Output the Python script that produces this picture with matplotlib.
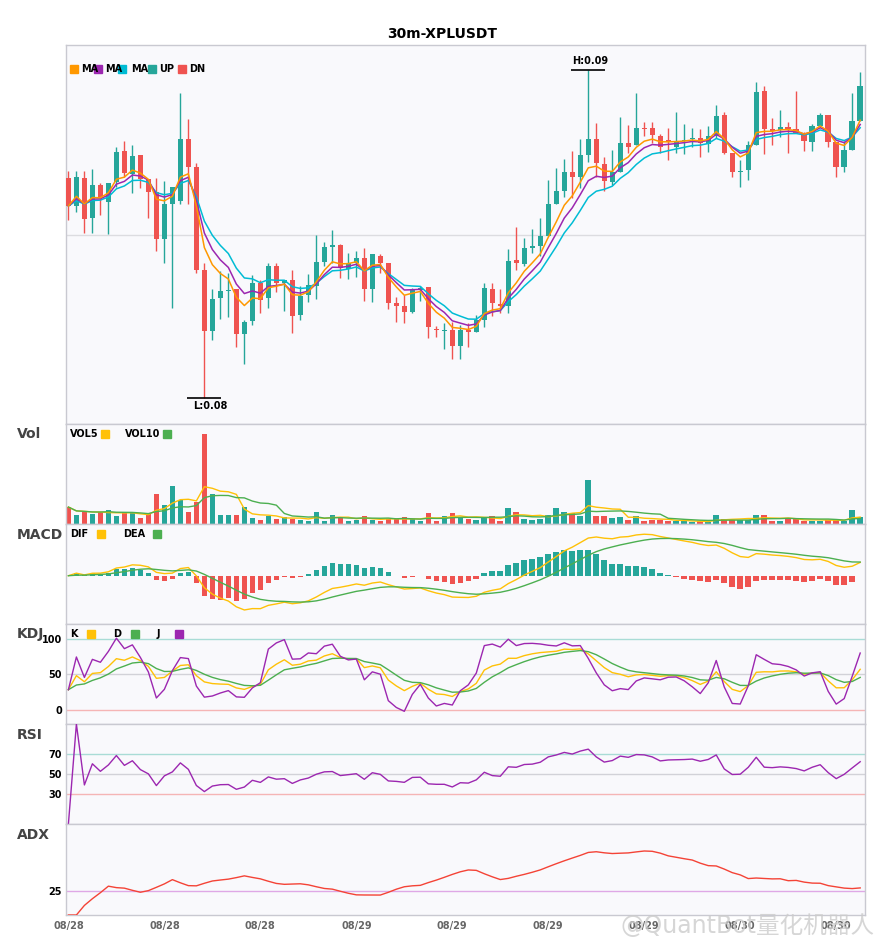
import numpy as np
import pandas as pd
import matplotlib
matplotlib.use("Agg")
import matplotlib.pyplot as plt
from matplotlib.patches import Rectangle
from matplotlib.ticker import MultipleLocator, FixedLocator

title = "30m-XPLUSDT"
date_labels = ["08/28", "08/28", "08/28", "08/29", "08/29", "08/29", "08/29", "08/30", "08/30"]
date_label_idx = [0, 12, 24, 36, 48, 60, 72, 84, 96]

opens = [0.08614, 0.08558, 0.08614, 0.08534, 0.08600, 0.08566, 0.08606, 0.08668, 0.08622, 0.08660,
         0.08612, 0.08586, 0.08492, 0.08562, 0.08568, 0.08692, 0.08636, 0.08430, 0.08308, 0.08374,
         0.08388, 0.08392, 0.08302, 0.08328, 0.08404, 0.08374, 0.08438, 0.08404, 0.08410, 0.08340,
         0.08380, 0.08398, 0.08446, 0.08476, 0.08480, 0.08432, 0.08444, 0.08454, 0.08392, 0.08458,
         0.08444, 0.08364, 0.08358, 0.08346, 0.08390, 0.08396, 0.08312, 0.08308, 0.08310, 0.08278,
         0.08310, 0.08306, 0.08330, 0.08392, 0.08362, 0.08358, 0.08450, 0.08442, 0.08474, 0.08478,
         0.08498, 0.08562, 0.08588, 0.08626, 0.08616, 0.08660, 0.08692, 0.08642, 0.08606, 0.08626,
         0.08684, 0.08680, 0.08714, 0.08714, 0.08698, 0.08690, 0.08676, 0.08688, 0.08692, 0.08694,
         0.08682, 0.08698, 0.08740, 0.08664, 0.08626, 0.08630, 0.08680, 0.08788, 0.08712, 0.08710,
         0.08716, 0.08712, 0.08704, 0.08686, 0.08718, 0.08740, 0.08686, 0.08636, 0.08670, 0.08728]
highs = [0.08628, 0.08628, 0.08628, 0.08632, 0.08604, 0.08604, 0.08676, 0.08688, 0.08680, 0.08660,
         0.08612, 0.08614, 0.08608, 0.08596, 0.08784, 0.08732, 0.08644, 0.08444, 0.08392, 0.08428,
         0.08424, 0.08392, 0.08330, 0.08420, 0.08410, 0.08444, 0.08444, 0.08410, 0.08430, 0.08398,
         0.08422, 0.08500, 0.08486, 0.08510, 0.08482, 0.08464, 0.08468, 0.08474, 0.08462, 0.08462,
         0.08444, 0.08376, 0.08380, 0.08394, 0.08398, 0.08396, 0.08318, 0.08324, 0.08326, 0.08320,
         0.08324, 0.08340, 0.08404, 0.08404, 0.08392, 0.08472, 0.08516, 0.08494, 0.08512, 0.08534,
         0.08610, 0.08634, 0.08652, 0.08668, 0.08692, 0.08830, 0.08724, 0.08656, 0.08670, 0.08736,
         0.08720, 0.08784, 0.08726, 0.08726, 0.08702, 0.08714, 0.08746, 0.08722, 0.08714, 0.08712,
         0.08718, 0.08760, 0.08746, 0.08664, 0.08650, 0.08688, 0.08806, 0.08798, 0.08734, 0.08750,
         0.08726, 0.08788, 0.08706, 0.08722, 0.08744, 0.08740, 0.08686, 0.08688, 0.08784, 0.08826]
lows = [0.08530, 0.08546, 0.08504, 0.08504, 0.08540, 0.08502, 0.08596, 0.08616, 0.08584, 0.08594,
        0.08534, 0.08468, 0.08444, 0.08354, 0.08562, 0.08562, 0.08424, 0.08174, 0.08290, 0.08332,
        0.08336, 0.08276, 0.08242, 0.08320, 0.08344, 0.08354, 0.08386, 0.08348, 0.08304, 0.08330,
        0.08366, 0.08372, 0.08438, 0.08444, 0.08414, 0.08412, 0.08416, 0.08368, 0.08366, 0.08424,
        0.08352, 0.08326, 0.08324, 0.08344, 0.08368, 0.08294, 0.08296, 0.08272, 0.08252, 0.08252,
        0.08276, 0.08306, 0.08316, 0.08338, 0.08344, 0.08344, 0.08430, 0.08438, 0.08464, 0.08458,
        0.08498, 0.08562, 0.08576, 0.08574, 0.08594, 0.08646, 0.08616, 0.08588, 0.08600, 0.08626,
        0.08664, 0.08680, 0.08698, 0.08684, 0.08664, 0.08650, 0.08664, 0.08662, 0.08676, 0.08656,
        0.08666, 0.08694, 0.08662, 0.08616, 0.08596, 0.08610, 0.08680, 0.08662, 0.08680, 0.08696,
        0.08664, 0.08704, 0.08668, 0.08668, 0.08716, 0.08676, 0.08616, 0.08626, 0.08670, 0.08728]
closes = [0.08558, 0.08616, 0.08532, 0.08600, 0.08574, 0.08604, 0.08666, 0.08624, 0.08658, 0.08612,
          0.08586, 0.08492, 0.08562, 0.08596, 0.08692, 0.08636, 0.08430, 0.08308, 0.08372, 0.08388,
          0.08390, 0.08302, 0.08326, 0.08404, 0.08370, 0.08438, 0.08404, 0.08410, 0.08338, 0.08378,
          0.08400, 0.08446, 0.08476, 0.08480, 0.08434, 0.08444, 0.08454, 0.08392, 0.08462, 0.08444,
          0.08364, 0.08358, 0.08346, 0.08392, 0.08394, 0.08316, 0.08310, 0.08310, 0.08278, 0.08310,
          0.08306, 0.08330, 0.08394, 0.08364, 0.08358, 0.08448, 0.08444, 0.08474, 0.08478, 0.08498,
          0.08562, 0.08588, 0.08626, 0.08616, 0.08660, 0.08692, 0.08644, 0.08608, 0.08626, 0.08684,
          0.08676, 0.08714, 0.08712, 0.08700, 0.08676, 0.08686, 0.08688, 0.08690, 0.08694, 0.08684,
          0.08698, 0.08738, 0.08664, 0.08626, 0.08628, 0.08680, 0.08786, 0.08712, 0.08708, 0.08716,
          0.08712, 0.08704, 0.08688, 0.08718, 0.08740, 0.08686, 0.08636, 0.08670, 0.08728, 0.08798]
volumes = [17.0, 9.3, 11.7, 10.3, 11.7, 14.3, 8.3, 11.0, 11.0, 6.3,
           10.3, 30.3, 19.3, 38.3, 23.7, 12.3, 22.3, 90.3, 30.3, 9.3,
           9.3, 9.3, 16.7, 6.3, 4.3, 7.7, 5.3, 7.0, 5.3, 4.3,
           3.3, 12.3, 3.3, 9.3, 6.0, 3.3, 4.3, 8.3, 4.3, 3.3,
           5.0, 5.0, 7.3, 5.0, 3.3, 11.3, 3.3, 8.3, 11.3, 6.7,
           5.3, 4.3, 6.0, 8.3, 3.3, 16.3, 12.3, 5.3, 4.3, 5.3,
           9.3, 16.3, 12.3, 11.0, 8.3, 44.3, 8.3, 8.3, 6.0, 7.0,
           4.3, 8.3, 3.3, 4.3, 4.3, 3.3, 3.3, 2.7, 1.7, 2.7,
           2.0, 9.3, 5.3, 4.3, 4.3, 4.3, 9.3, 9.3, 2.7, 3.3,
           5.3, 6.0, 3.3, 2.7, 3.3, 4.3, 5.3, 3.3, 14.3, 7.3]

# ---------------- indicators derived from the data ----------------
o = pd.Series(opens); h = pd.Series(highs); l = pd.Series(lows); c = pd.Series(closes)
v = pd.Series(volumes)
n = len(c)
x = np.arange(n)

ma_fast = c.ewm(span=5, adjust=False).mean()
ma_mid = c.ewm(span=7, adjust=False).mean()
ma_slow = c.ewm(span=10, adjust=False).mean()

vol5 = v.rolling(5, min_periods=1).mean()
vol10 = v.rolling(10, min_periods=1).mean()

dif = c.ewm(span=12, adjust=False).mean() - c.ewm(span=26, adjust=False).mean()
dea = dif.ewm(span=9, adjust=False).mean()
macd_hist = 1.5 * (dif - dea)

low9 = l.rolling(9, min_periods=1).min()
high9 = h.rolling(9, min_periods=1).max()
rsv = (c - low9) / (high9 - low9) * 100
k_line = rsv.ewm(com=2, adjust=False).mean()
d_line = k_line.ewm(com=2, adjust=False).mean()
j_line = 3 * k_line - 2 * d_line

delta = c.diff()
gain = delta.clip(lower=0).ewm(com=13, adjust=True).mean()
loss = (-delta.clip(upper=0)).ewm(com=13, adjust=True).mean()
rsi = (100 * gain / (gain + loss)).fillna(0)

up_move = h.diff()
down_move = -l.diff()
plus_dm = pd.Series(np.where((up_move > down_move) & (up_move > 0), up_move, 0.0))
minus_dm = pd.Series(np.where((down_move > up_move) & (down_move > 0), down_move, 0.0))
tr = pd.concat([h - l, (h - c.shift()).abs(), (l - c.shift()).abs()], axis=1).max(axis=1)
atr = tr.ewm(alpha=1 / 7, adjust=False).mean()
pdi = 100 * plus_dm.ewm(alpha=1 / 7, adjust=False).mean() / atr
mdi = 100 * minus_dm.ewm(alpha=1 / 7, adjust=False).mean() / atr
dx = (100 * (pdi - mdi).abs() / (pdi + mdi)).fillna(0)
adx = dx.ewm(alpha=1 / 10, adjust=False).mean()

# ---------------- styling ----------------
UP = "#26a69a"
DN = "#ef5350"
C_MA1 = "#ff9800"
C_MA2 = "#9c27b0"
C_MA3 = "#00bcd4"
C_Y = "#ffc107"
C_G = "#4caf50"
C_P = "#9c27b0"
BG = "#f9f9fc"
SPINE = "#c9c9d1"

W, H = 885, 950
fig = plt.figure(figsize=(W / 100, H / 100), dpi=100)
fig.patch.set_facecolor("white")

left = 66 / W
width = 799 / W


def make_ax(top_px, bottom_px):
    ax = fig.add_axes([left, 1 - bottom_px / H, width, (bottom_px - top_px) / H])
    ax.set_facecolor(BG)
    for s in ax.spines.values():
        s.set_color(SPINE)
        s.set_linewidth(1.0)
    ax.set_xlim(-0.3, n - 0.4)
    ax.tick_params(axis="x", length=0, labelbottom=False)
    ax.tick_params(axis="y", length=0, labelleft=False)
    return ax


ax_main = make_ax(45, 424)
ax_vol = make_ax(424, 524)
ax_macd = make_ax(524, 624)
ax_kdj = make_ax(624, 724)
ax_rsi = make_ax(724, 824)
ax_adx = make_ax(824, 915)

is_up = (c >= o).values
colors = np.where(is_up, UP, DN)

# ---- main candles ----
ax_main.set_ylim(0.08122, 0.0888)
ax_main.yaxis.set_major_locator(MultipleLocator(0.005))
ax_main.grid(axis="y", color="#dcdce0", linewidth=1.0)
ax_main.set_axisbelow(True)
ax_main.vlines(x, l, h, colors=colors, linewidth=1.0, zorder=2)
body_bottom = np.minimum(o, c)
body_h = np.maximum(np.abs(c - o), 0.000016)
ax_main.bar(x, body_h, bottom=body_bottom, width=0.68, color=colors, zorder=3, linewidth=0)
ax_main.plot(x, ma_slow, color=C_MA3, linewidth=1.1, zorder=4)
ax_main.plot(x, ma_mid, color=C_MA2, linewidth=1.1, zorder=4)
ax_main.plot(x, ma_fast, color=C_MA1, linewidth=1.1, zorder=4)

ih = int(np.argmax(highs))
il = int(np.argmin(lows))
ax_main.hlines(highs[ih], ih - 2.2, ih + 2.1, color="black", linewidth=1.2, zorder=5)
ax_main.annotate(f"H:{highs[ih]:.2f}", (ih + 0.2, highs[ih]), xytext=(0, 3), textcoords="offset points",
                 ha="center", va="bottom", fontsize=7, fontweight="bold", zorder=6)
ax_main.hlines(lows[il], il - 2.2, il + 2.1, color="black", linewidth=1.2, zorder=5)
ax_main.annotate(f"L:{lows[il]:.2f}", (il + 0.7, lows[il]), xytext=(0, -2), textcoords="offset points",
                 ha="center", va="top", fontsize=7, fontweight="bold", zorder=6)

# ---- volume ----
ax_vol.bar(x, v, width=0.7, color=colors, linewidth=0, zorder=2)
ax_vol.plot(x, vol5, color=C_Y, linewidth=1.0, zorder=3)
ax_vol.plot(x, vol10, color=C_G, linewidth=1.0, zorder=3)
ax_vol.set_ylim(0, v.max() * 1.11)

# ---- MACD ----
hist_colors = np.where(macd_hist >= 0, UP, DN)
ax_macd.bar(x, macd_hist, width=0.7, color=hist_colors, linewidth=0, zorder=2)
ax_macd.plot(x, dif, color=C_Y, linewidth=1.0, zorder=3)
ax_macd.plot(x, dea, color=C_G, linewidth=1.0, zorder=3)
A = abs(dif.min())
ax_macd.set_ylim(-1.41 * A, 1.51 * A)

# ---- KDJ ----
ax_kdj.set_ylim(-19.7, 121)
ax_kdj.axhline(100, color="#a9dcd6", linewidth=1.0, zorder=1)
ax_kdj.axhline(50, color="#d2d2d8", linewidth=1.0, zorder=1)
ax_kdj.axhline(0, color="#f5b5b5", linewidth=1.0, zorder=1)
ax_kdj.plot(x, k_line, color=C_Y, linewidth=1.0, zorder=3)
ax_kdj.plot(x, d_line, color=C_G, linewidth=1.0, zorder=3)
ax_kdj.plot(x, j_line, color=C_P, linewidth=1.0, zorder=3)
ax_kdj.yaxis.set_major_locator(FixedLocator([0, 50, 100]))
ax_kdj.tick_params(axis="y", labelleft=True, labelsize=7, pad=3)

# ---- RSI ----
ax_rsi.set_ylim(0, 100)
ax_rsi.axhline(70, color="#a9dcd6", linewidth=1.0, zorder=1)
ax_rsi.axhline(50, color="#d2d2d8", linewidth=1.0, zorder=1)
ax_rsi.axhline(30, color="#f5b5b5", linewidth=1.0, zorder=1)
ax_rsi.plot(x, rsi, color=C_P, linewidth=1.0, zorder=3)
ax_rsi.yaxis.set_major_locator(FixedLocator([30, 50, 70]))
ax_rsi.tick_params(axis="y", labelleft=True, labelsize=7, pad=3)

# ---- ADX ----
ax_adx.set_ylim(0, 95)
ax_adx.axhline(25, color="#dfa8e6", linewidth=1.0, zorder=1)
ax_adx.plot(x, adx, color="#f44336", linewidth=1.0, zorder=3)
ax_adx.yaxis.set_major_locator(FixedLocator([25]))
ax_adx.tick_params(axis="y", labelleft=True, labelsize=7, pad=3)
ax_adx.set_xticks(date_label_idx)
ax_adx.set_xticklabels(date_labels)
ax_adx.tick_params(axis="x", labelbottom=True, labelsize=7, colors="#666666", length=0, pad=4)

for ax in (ax_kdj, ax_rsi, ax_adx):
    for t in ax.get_yticklabels():
        t.set_fontweight("bold")
for t in ax_adx.get_xticklabels():
    t.set_fontweight("bold")

# ---- titles / panel labels ----
fig.text(0.5, 1 - 34 / H, title, ha="center", va="center", fontsize=10, fontweight="bold")
for lab, ypx in [("Vol", 434), ("MACD", 535), ("KDJ", 634), ("RSI", 735), ("ADX", 835)]:
    fig.text(17 / W, 1 - ypx / H, lab, ha="left", va="center", fontsize=10, fontweight="bold", color="#444444")


def fsq(x0, y0, color, size=8):
    fig.patches.append(Rectangle((x0 / W, 1 - (y0 + size) / H), size / W, size / H,
                                 transform=fig.transFigure, color=color, zorder=5))


def ftxt(x0, ycen, s):
    fig.text(x0 / W, 1 - ycen / H, s, ha="left", va="center", fontsize=7, fontweight="bold", zorder=6)


# main legend
for sx, col, tx, lab in [(70, C_MA1, 81, "MA"), (94, C_MA2, 105, "MA"), (118, C_MA3, 131, "MA"),
                         (148, UP, 159, "UP"), (178, DN, 189, "DN")]:
    fsq(sx, 65, col)
    ftxt(tx, 69, lab)
# vol legend
ftxt(70, 434, "VOL5"); fsq(101, 430, C_Y)
ftxt(125, 434, "VOL10"); fsq(163, 430, C_G)
# macd legend
ftxt(70, 534, "DIF"); fsq(97, 530, C_Y)
ftxt(123, 534, "DEA"); fsq(153, 530, C_G)
# kdj legend
ftxt(70, 634, "K"); fsq(87, 630, C_Y)
ftxt(113, 634, "D"); fsq(131, 630, C_G)
ftxt(157, 634, "J"); fsq(175, 630, C_P)

# watermark
fig.text(620 / W, 1 - 926 / H, "@QuantBot量化机器人", ha="left", va="center", fontsize=17,
         color="#cccccc", alpha=0.8, family=["DejaVu Sans", "Noto Sans CJK SC"], zorder=10)

fig.savefig("out.png", dpi=100, facecolor="white")
